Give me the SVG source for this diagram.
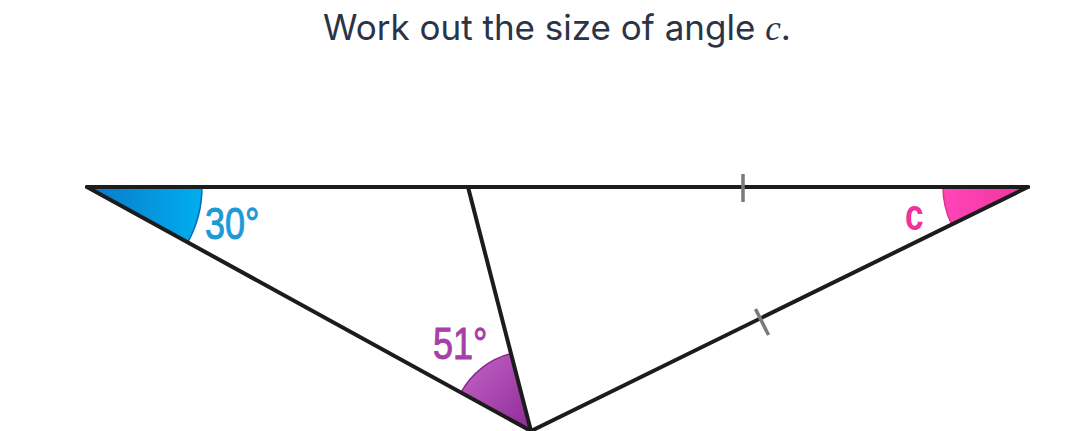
<svg xmlns="http://www.w3.org/2000/svg" width="1073" height="431" viewBox="0 0 1073 431">
<defs>
<linearGradient id="gBlue" x1="0" y1="0" x2="1" y2="0"><stop offset="0" stop-color="#0a78c8"/><stop offset="1" stop-color="#00aeef"/></linearGradient>
<linearGradient id="gPink" x1="0" y1="0" x2="1" y2="0"><stop offset="0" stop-color="#ff45b8"/><stop offset="1" stop-color="#f0359e"/></linearGradient>
<linearGradient id="gPurple" x1="0" y1="0" x2="1" y2="1"><stop offset="0" stop-color="#c466c8"/><stop offset="1" stop-color="#8e2a96"/></linearGradient>
</defs>
<style>
.title{font-family:"Inter","Liberation Sans",sans-serif;font-size:35px;fill:#2b3447}
.lbl{font-family:"Liberation Sans",sans-serif;font-size:45px;stroke-width:1}
.edge{stroke:#1c1c1c;stroke-width:4;stroke-linecap:round;fill:none}
.tick{stroke:#7a7a7a;stroke-width:3.5;fill:none}
</style>
<text class="title" x="323" y="40">Work out the size of angle <tspan font-family="'Liberation Serif',serif" font-style="italic">c</tspan>.</text>
<g id="angle30">
<path d="M87,187 L202,187 A115,115 0 0 1 187.8,242.3 Z" fill="url(#gBlue)" stroke="#0a6ab8" stroke-width="1.5"/>
<text class="lbl" transform="translate(205,239) scale(0.8,1)" fill="#1b9ad8" stroke="#1b9ad8">30°</text>
</g>
<g id="angleC">
<path d="M1028,187 L943,187 A85,85 0 0 0 951.6,224.3 Z" fill="url(#gPink)" stroke="#e0328f" stroke-width="1.5"/>
<text class="lbl" transform="translate(905,230) scale(0.74,1)" fill="#f0329a" font-weight="bold" font-size="52">c</text>
</g>
<g id="angle51">
<path d="M531,431 L511.2,353.5 A80,80 0 0 0 460.9,392.5 Z" fill="url(#gPurple)" stroke="#8a2a92" stroke-width="1.5"/>
<text class="lbl" transform="translate(433,359) scale(0.8,1)" fill="#a63fa8" stroke="#a63fa8">51°</text>
</g>
<g id="connectors">
<line class="edge" x1="87" y1="187" x2="1028" y2="187"/>
<line class="edge" x1="87" y1="187" x2="531" y2="431"/>
<line class="edge" x1="468" y1="187" x2="531" y2="431"/>
<line class="edge" x1="531" y1="431" x2="1028" y2="187"/>
<line class="tick" x1="743" y1="174" x2="743" y2="202"/>
<line class="tick" x1="755.5" y1="309" x2="768.5" y2="335"/>
</g>
</svg>
